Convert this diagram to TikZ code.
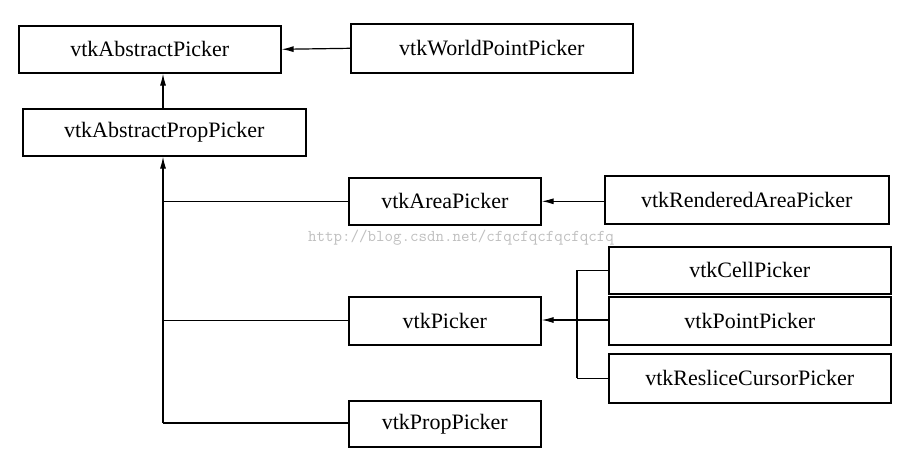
\documentclass[tikz,border=0pt]{standalone}
\usepackage{fontspec}
\setmainfont{Liberation Serif}
\usetikzlibrary{arrows.meta}
\begin{document}
\begin{tikzpicture}[x=1pt,y=-1pt,
  box/.style={draw,line width=1.6pt,inner sep=0pt,font=\fontsize{22}{24}\selectfont,anchor=north west},
  ln/.style={line width=1.2pt},
  ar/.style={ln,-{Latex[length=12pt,width=6pt]}}]
\useasboundingbox (0,0) rectangle (902,455);
\node[box,minimum width=262pt,minimum height=47pt] (ap) at (18,25) {vtkAbstractPicker};
\node[box,minimum width=282pt,minimum height=49pt] (wp) at (350,23) {vtkWorldPointPicker};
\node[box,minimum width=283pt,minimum height=47pt] (app) at (22,108) {vtkAbstractPropPicker};
\node[box,minimum width=192pt,minimum height=47pt] (arp) at (348,177) {vtkAreaPicker};
\node[box,minimum width=284pt,minimum height=48pt] (rap) at (604,175) {vtkRenderedAreaPicker};
\node[box,minimum width=282pt,minimum height=47pt] (cp) at (608,246) {vtkCellPicker};
\node[box,minimum width=282pt,minimum height=48pt] (pp) at (608,296) {vtkPointPicker};
\node[box,minimum width=282pt,minimum height=49pt] (rcp) at (608,353) {vtkResliceCursorPicker};
\node[box,minimum width=192pt,minimum height=48pt] (pk) at (348,296) {vtkPicker};
\node[box,minimum width=192pt,minimum height=46pt] (prp) at (348,400) {vtkPropPicker};
\node[text=black!25,font=\ttfamily\fontsize{16.5}{18}\selectfont] (wm) at (461,238) {http://blog.csdn.net/cfqcfqcfqcfqcfq};
\coordinate (t) at (163,423);
\draw[ar] (wp.west) -- (ap.east);
\draw[ar] (app.north -| 163,0) -- (ap.south -| 163,0);
\draw[ar] (t) -- (app.south -| 163,0);
\draw[ln] (t) -- (prp.west |- t);
\draw[ln] (arp.west -| 163,0) -- (arp.west);
\draw[ln] (pk.west -| 163,0) -- (pk.west);
\draw[ar] (rap.west |- arp.east) -- (arp.east);
\coordinate (j) at (577,320);
\draw[ar] (j) -- (pk.east |- j);
\draw[ln] (cp.west -| j) -- (rcp.west -| j);
\draw[ln] (cp.west -| j) -- (cp.west);
\draw[ln] (j) -- (pp.west |- j);
\draw[ln] (rcp.west -| j) -- (rcp.west);
\end{tikzpicture}
\end{document}
